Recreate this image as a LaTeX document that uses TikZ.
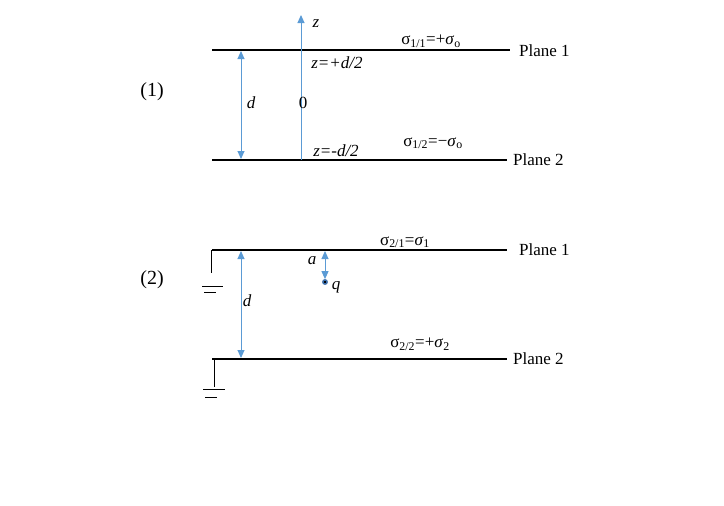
\documentclass[tikz,border=0pt]{standalone}
\usepackage{fontspec}
\setmainfont{Liberation Serif}
\usetikzlibrary{arrows.meta}
\begin{document}
\begin{tikzpicture}[x=1pt,y=-1pt,
 plane/.style={line width=2.4pt},
 blu/.style={draw={rgb,255:red,91;green,155;blue,213},line width=1pt},
 arr/.style={blu,-{Triangle[width=7pt,length=8pt]}},
 darr/.style={blu,{Triangle[width=7pt,length=8pt]}-{Triangle[width=7pt,length=8pt]}},
 lbl/.style={font=\fontsize{17}{19}\selectfont,inner sep=0pt},
 gnd/.style={line width=1pt}]
\useasboundingbox (0,0) rectangle (724,506);
% (1)
\coordinate (p1a) at (212,50); \coordinate (p1b) at (510,50);
\coordinate (p2a) at (212,160); \coordinate (p2b) at (507,160);
\draw[plane] (p1a) -- (p1b);
\draw[plane] (p2a) -- (p2b);
\node[lbl,anchor=west] (pl1) at (519,51) {Plane 1};
\node[lbl,anchor=west] (pl2) at (513,160) {Plane 2};
\coordinate (z0) at (301,160); \coordinate (z1) at (301,15);
\draw[arr] (z0) -- (z1);
\node[lbl] (zl) at (316,24) {\itshape z};
\coordinate (d1a) at (241,51); \coordinate (d1b) at (241,159);
\draw[darr] (d1a) -- (d1b);
\node[lbl] (dl) at (251,103) {\itshape d};
\node[lbl] (zero) at (303,103) {0};
\node[lbl] (zp) at (337,63) {\itshape z=+d/2};
\node[lbl] (zm) at (336,151) {\itshape z=-d/2};
\node[lbl] (s11) at (431,41) {σ\textsubscript{1/1}=+\textit{σ}\textsubscript{o}};
\node[lbl] (s12) at (433,143) {σ\textsubscript{1/2}=−\textit{σ}\textsubscript{o}};
\node[lbl,font=\fontsize{20}{22}\selectfont] (n1) at (152,92) {(1)};
% (2)
\node[lbl,font=\fontsize{20}{22}\selectfont] (n2) at (152,280) {(2)};
\coordinate (q1a) at (212,250); \coordinate (q1b) at (507,250);
\coordinate (q2a) at (212,359); \coordinate (q2b) at (507,359);
\draw[plane] (q1a) -- (q1b);
\draw[plane] (q2a) -- (q2b);
\node[lbl,anchor=west] (pl3) at (519,250) {Plane 1};
\node[lbl,anchor=west] (pl4) at (513,359) {Plane 2};
\draw[gnd] (211,250) -- (211,273);
\draw[gnd] (202,286) -- (223,286);
\draw[gnd] (204,292) -- (216,292);
\draw[gnd] (214,359) -- (214,387);
\draw[gnd] (203,389) -- (225,389);
\draw[gnd] (205,397) -- (217,397);
\coordinate (d2a) at (241,251); \coordinate (d2b) at (241,358);
\draw[darr] (d2a) -- (d2b);
\node[lbl] (dl2) at (247,301) {\itshape d};
\node[circle,fill=black,draw={rgb,255:red,60;green,110;blue,170},line width=1.5pt,inner sep=1.5pt] (q) at (325,282) {};
\coordinate (aa) at (325,251);
\draw[darr] (aa) -- (q.north);
\node[lbl] (al) at (312,261) {\itshape a};
\node[lbl] (ql) at (336,287) {\itshape q};
\node[lbl] (s21) at (405,242) {σ\textsubscript{2/1}=\textit{σ}\textsubscript{1}};
\node[lbl] (s22) at (420,344) {σ\textsubscript{2/2}=+\textit{σ}\textsubscript{2}};
\end{tikzpicture}
\end{document}
